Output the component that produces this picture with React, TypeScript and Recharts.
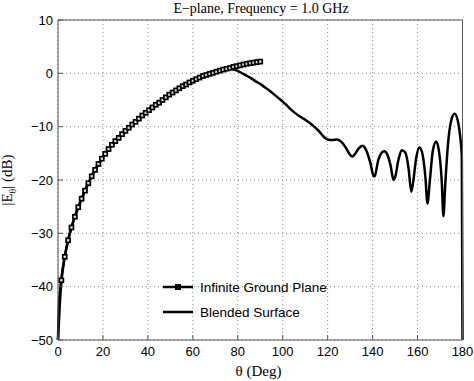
import React from 'react';
import { LineChart, Line, XAxis, YAxis, CartesianGrid } from 'recharts';

const xTicks = [0, 20, 40, 60, 80, 100, 120, 140, 160, 180];
const yTicks = [-50, -40, -30, -20, -10, 0, 10];

const infTheta = [0, 1.5, 3, 4.5, 6, 7.5, 9, 10.5, 12, 13.5, 15, 16.5, 18, 19.5, 21, 22.5, 24, 25.5, 27, 28.5, 30, 31.5, 33, 34.5, 36, 37.5, 39, 40.5, 42, 43.5, 45, 46.5, 48, 49.5, 51, 52.5, 54, 55.5, 57, 58.5, 60, 61.5, 63, 64.5, 66, 67.5, 69, 70.5, 72, 73.5, 75, 76.5, 78, 79.5, 81, 82.5, 84, 85.5, 87, 88.5, 90];
const infDb = [-50, -38.8, -34.4, -31.3, -28.9, -26.9, -25.1, -23.5, -22.0, -20.6, -19.3, -18.1, -17.0, -16.0, -15.1, -14.2, -13.4, -12.7, -12.1, -11.4, -10.8, -10.2, -9.6, -9.1, -8.5, -7.9, -7.4, -6.9, -6.4, -5.9, -5.5, -5.0, -4.5, -4.0, -3.6, -3.2, -2.8, -2.4, -2.1, -1.7, -1.4, -1.1, -0.8, -0.5, -0.3, -0.1, 0.1, 0.3, 0.5, 0.7, 0.85, 1.0, 1.2, 1.35, 1.5, 1.65, 1.8, 1.9, 2.0, 2.1, 2.2];

const blendTheta = [0, 0.4, 1, 1.5, 3, 4.5, 6, 7.5, 9, 10.5, 12, 13.5, 15, 16.5, 18, 19.5, 21, 22.5, 24, 25.5, 27, 28.5, 30, 31.5, 33, 34.5, 36, 37.5, 39, 40.5, 42, 43.5, 45, 46.5, 48, 49.5, 51, 52.5, 54, 55.5, 57, 58.5, 60, 61.5, 63, 64.5, 66, 67.5, 69, 70.5, 72, 73.5, 75, 76.5, 78, 80, 82, 84, 86, 88, 90, 92, 94, 96, 98, 100, 102, 104, 106, 108, 110, 112, 114, 116, 118, 120, 122, 124, 126, 128, 130, 131, 132, 134, 135.5, 137, 139, 140.5, 141, 142.5, 144, 145.2, 146.5, 148, 149.3, 150, 151.5, 153, 154.5, 156, 157.2, 158, 159.5, 160.8, 162, 163.5, 164.4, 165.5, 166.8, 168.3, 169.5, 170.8, 171.5, 172.3, 173.5, 175, 176.5, 177.8, 179, 179.7, 180];
const blendDb = [-50, -43.5, -40.5, -38.8, -34.4, -31.3, -28.9, -26.9, -25.1, -23.5, -22.0, -20.6, -19.3, -18.1, -17.0, -16.0, -15.1, -14.2, -13.4, -12.7, -12.1, -11.4, -10.8, -10.2, -9.6, -9.1, -8.5, -7.9, -7.4, -6.9, -6.4, -5.9, -5.5, -5.0, -4.5, -4.0, -3.6, -3.2, -2.8, -2.4, -2.1, -1.7, -1.4, -1.1, -0.8, -0.5, -0.3, -0.1, 0.1, 0.3, 0.5, 0.7, 0.85, 0.9, 0.75, 0.45, 0.0, -0.45, -0.95, -1.5, -2.0, -2.6, -3.2, -3.9, -4.6, -5.3, -6.1, -6.9, -7.6, -8.2, -8.7, -9.3, -10.0, -10.8, -11.8, -12.4, -12.5, -12.4, -12.8, -13.9, -15.3, -15.6, -15.2, -14.0, -13.6, -14.3, -16.8, -19.3, -19.2, -16.3, -14.9, -14.6, -15.2, -17.3, -20.0, -19.5, -16.2, -14.4, -14.8, -17.8, -22.2, -20.5, -15.6, -13.9, -14.8, -19.5, -24.4, -20.0, -14.5, -12.8, -14.5, -20.5, -26.8, -21.0, -13.5, -8.8, -7.6, -8.7, -12.0, -15.6, -50];

const infData = infTheta.map((t, i) => ({ theta: t, db: infDb[i] }));
const blendData = blendTheta.map((t, i) => ({ theta: t, db: blendDb[i] }));

const fmt = (v: number) => (v < 0 ? '\u2212' + Math.abs(v) : String(v));
const tickFont = { fontFamily: 'Liberation Sans, Arial, sans-serif', fontSize: 13, fill: '#000' };
const axisCol = '#555';

const SquareDot = (props: any) => {
  const { cx, cy, index } = props;
  if (index === 0 || cx == null || cy == null) return <g key={'d' + index} />;
  return <rect key={'d' + index} x={cx - 2} y={cy - 2} width={4} height={4} fill="#ddd" stroke="#000" strokeWidth={1.7} />;
};

export default function App() {
  return (
    <div style={{ position: 'absolute', left: 0, top: 0, width: 474, height: 381, background: '#fff' }}>
      <LineChart width={474} height={381} margin={{ top: 0, right: 0, bottom: 0, left: 0 }}>
        <CartesianGrid stroke="#888" strokeDasharray="1 3" />
        <XAxis dataKey="theta" type="number" domain={[0, 180]} ticks={xTicks} height={41}
          tickSize={-5} tickMargin={12} tick={tickFont} stroke={axisCol} />
        <XAxis xAxisId="top" orientation="top" type="number" domain={[0, 180]} ticks={xTicks} height={20}
          tickSize={-5} tick={false} stroke={axisCol} />
        <YAxis type="number" domain={[-50, 10]} ticks={yTicks} width={58} tickSize={-5} tickMargin={10}
          tick={tickFont} tickFormatter={fmt} stroke={axisCol} />
        <YAxis yAxisId="right" orientation="right" type="number" domain={[-50, 10]} ticks={yTicks} width={11.5}
          tickSize={-5} tick={false} stroke={axisCol} />
        <Line data={blendData} dataKey="db" type="monotone" stroke="#000" strokeWidth={2.5} dot={false} isAnimationActive={false} />
        <Line data={infData} dataKey="db" type="monotone" stroke="#000" strokeWidth={2.5} dot={SquareDot} isAnimationActive={false} />
      </LineChart>
      <svg width={474} height={381} style={{ position: 'absolute', left: 0, top: 0, pointerEvents: 'none' }}>
        <text x={261} y={13} textAnchor="middle" fontFamily="Liberation Serif, Times New Roman, serif" fontSize={14} fill="#000">E{'\u2212'}plane, Frequency = 1.0 GHz</text>
        <text x={258.5} y={376} textAnchor="middle" fontFamily="Liberation Serif, Times New Roman, serif" fontSize={15} fill="#000">{'\u03B8'} (Deg)</text>
        <text transform="translate(12,180) rotate(-90)" textAnchor="middle" fontFamily="Liberation Serif, Times New Roman, serif" fontSize={15} fill="#000">
          |E<tspan fontSize={10} dy={4}>{'\u03B8'}</tspan><tspan dy={-4}>| (dB)</tspan>
        </text>
        <line x1={163} x2={193} y1={287} y2={287} stroke="#000" strokeWidth={2.5} />
        <rect x={175.5} y={284.5} width={5} height={5} fill="#000" stroke="#000" strokeWidth={1} />
        <text x={200} y={291.5} fontFamily="Liberation Sans, Arial, sans-serif" fontSize={13.5} fill="#000">Infinite Ground Plane</text>
        <line x1={163} x2={193} y1={312} y2={312} stroke="#000" strokeWidth={2.5} />
        <text x={200} y={316.5} fontFamily="Liberation Sans, Arial, sans-serif" fontSize={13.5} fill="#000">Blended Surface</text>
      </svg>
    </div>
  );
}
